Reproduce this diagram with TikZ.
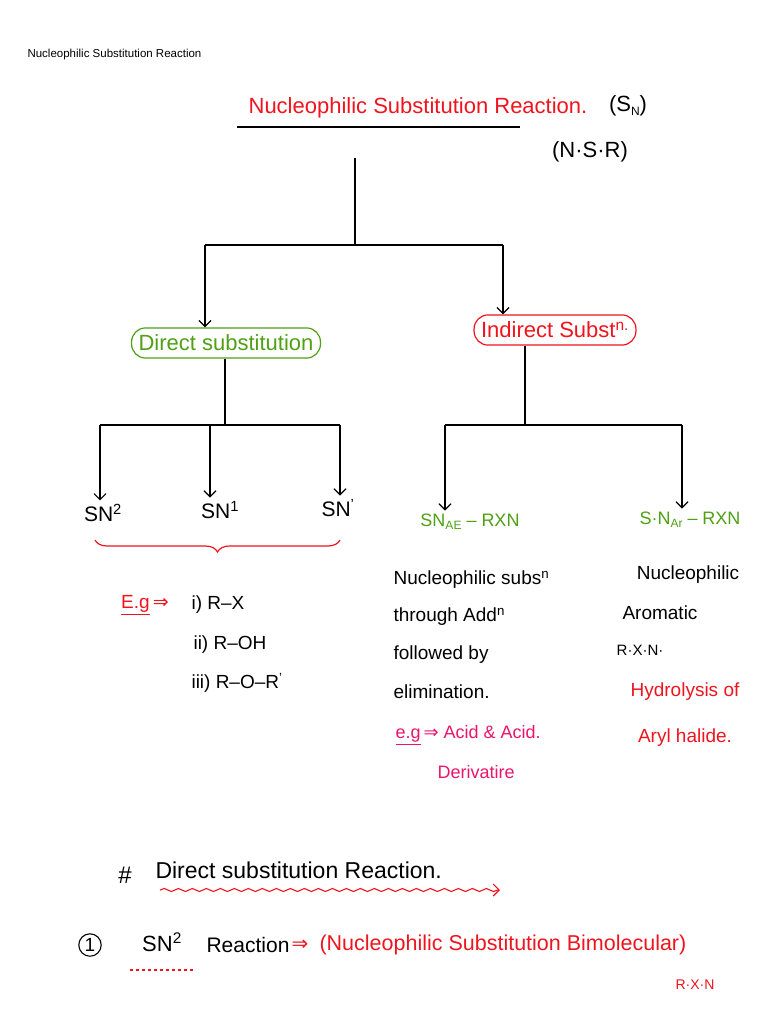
\documentclass[tikz,border=0pt]{standalone}
\usepackage{fontspec}
\setmainfont{Liberation Sans}
\newfontfamily\symf{DejaVu Sans}
\usetikzlibrary{arrows.meta,decorations.pathmorphing,decorations.pathreplacing}
\definecolor{hred}{RGB}{240,20,30}
\definecolor{hgreen}{RGB}{80,160,20}
\definecolor{hmag}{RGB}{235,20,110}
\newcommand{\sps}[1]{\textsuperscript{#1}}
\newcommand{\sbs}[1]{\raisebox{-0.35ex}{\fontsize{12}{14}\selectfont #1}}
\begin{document}
\begin{tikzpicture}[x=1pt,y=-1pt,
  line/.style={line width=1.2pt},
  arr/.style={line width=1.2pt,-{Straight Barb[length=6pt]}},
  txt/.style={font=\fontsize{19}{22}\selectfont},
  gtxt/.style={font=\fontsize{18}{22}\selectfont,text=hgreen},
  rtxt/.style={font=\fontsize{19}{22}\selectfont,text=hred},
  mtxt/.style={font=\fontsize{18}{22}\selectfont,text=hmag}]
\useasboundingbox[fill=white] (0,0) rectangle (768,1024);
\node[anchor=west,font=\fontsize{11.5}{13}\selectfont] (hdr) at (24,55) {Nucleophilic Substitution Reaction};
\node[rtxt,font=\fontsize{22}{26}\selectfont] (title) at (418,108) {Nucleophilic Substitution Reaction.};
\draw[line] (237,127) -- (520,127);
\node[txt,font=\fontsize{22}{24}\selectfont] (sn) at (628,106) {(S\sbs{N})};
\node[txt,font=\fontsize{22}{24}\selectfont] (nsr) at (590,152) {(N·S·R)};
\coordinate (t1) at (355,158);
\coordinate (t2) at (355,245);
\coordinate (lA) at (205,245);
\coordinate (rA) at (503,245);
\draw[line] (t1) -- (t2);
\draw[line] (lA) -- (rA);
\node[draw=hgreen,line width=1.2pt,rounded corners=14pt,gtxt,font=\fontsize{22}{26}\selectfont,inner sep=7pt] (direct) at (226,343) {Direct substitution};
\node[draw=hred,line width=1.2pt,rounded corners=14pt,rtxt,font=\fontsize{22}{26}\selectfont,inner sep=7pt] (indirect) at (555,330) {Indirect Subst\sps{n.}};
\draw[arr] (lA) -- (direct.north -| lA);
\draw[arr] (rA) -- (indirect.north -| rA);
% left branch
\coordinate (l1) at (225,425);
\draw[line] (direct.south -| l1) -- (l1);
\draw[line] (100,425) -- (340,425);
\node[txt,font=\fontsize{21}{24}\selectfont] (sn2) at (103,513) {SN\sps{2}};
\node[txt,font=\fontsize{21}{24}\selectfont] (sn1) at (220,510) {SN\sps{1}};
\node[txt,font=\fontsize{21}{24}\selectfont] (snp) at (338,508) {SN\sps{'}};
\draw[arr] (100,425) -- (sn2.north -| 100,0);
\draw[arr] (210,425) -- (sn1.north -| 210,0);
\draw[arr] (340,425) -- (snp.north -| 340,0);
\draw[hred,line width=1.2pt,decorate,decoration={brace,amplitude=12pt,mirror}] (95,540) -- (340,540);
\node[rtxt] (eg) at (145,605) {\underline{E.g}\,{\symf ⇒}};
\node[txt,anchor=west] (i1) at (188,605) {i) R–X};
\node[txt,anchor=west] (i2) at (190,645) {ii) R–OH};
\node[txt,anchor=west] (i3) at (188,683) {iii) R–O–R\sps{'}};
% right branch
\coordinate (r1) at (525,425);
\draw[line] (indirect.south -| r1) -- (r1);
\draw[line] (445,425) -- (682,425);
\node[gtxt] (snae) at (470,522) {SN\sbs{AE} – RXN};
\node[gtxt] (snar) at (690,520) {S·N\sbs{Ar} – RXN};
\draw[arr] (445,425) -- (snae.north -| 445,0);
\draw[arr] (682,425) -- (snar.north -| 682,0);
\node[txt,anchor=west] (a1) at (390,580) {Nucleophilic subs\sps{n}};
\node[txt,anchor=west] (a2) at (390,617) {through Add\sps{n}};
\node[txt,anchor=west] (a3) at (390,655) {followed by};
\node[txt,anchor=west] (a4) at (390,692) {elimination.};
\node[mtxt,anchor=west] (a5) at (392,735) {\underline{e.g}\,{\symf ⇒} Acid \& Acid.};
\node[mtxt,anchor=west] (a6) at (434,772) {Derivatire};
\node[txt] (b1) at (688,575) {Nucleophilic};
\node[txt] (b2) at (660,613) {Aromatic};
\node[txt,font=\fontsize{15}{17}\selectfont] (b3) at (640,650) {R·X·N·};
\node[rtxt] (b4) at (685,692) {Hydrolysis of};
\node[rtxt] (b5) at (685,738) {Aryl halide.};
% bottom
\node[txt,font=\fontsize{24}{26}\selectfont] (hash) at (125,875) {\#};
\node[txt,anchor=west,font=\fontsize{23}{26}\selectfont] (dsr) at (152,870) {Direct substitution Reaction.};
\draw[hred,line width=1.1pt,decorate,decoration={snake,amplitude=1.5pt,segment length=14pt},-{Straight Barb[length=6pt]}] (160,890) -- (500,890);
\node[draw,circle,line width=1.1pt,inner sep=2pt,txt] (one) at (90,945) {1};
\node[txt,font=\fontsize{22}{24}\selectfont] (s2) at (162,942) {SN\sps{2}};
\node[txt,font=\fontsize{21}{24}\selectfont] (rx) at (248,945) {Reaction};
\node[rtxt,font=\fontsize{20}{22}\selectfont] (imp) at (300,945) {\symf ⇒};
\node[rtxt,anchor=west,font=\fontsize{21.5}{24}\selectfont] (nsb) at (316,945) {(Nucleophilic Substitution Bimolecular)};
\node[rtxt,font=\fontsize{14}{16}\selectfont] (rxn) at (695,985) {R·X·N};
\draw[hred,line width=1.1pt,dashed] (130,970) -- (195,970);
\end{tikzpicture}
\end{document}
